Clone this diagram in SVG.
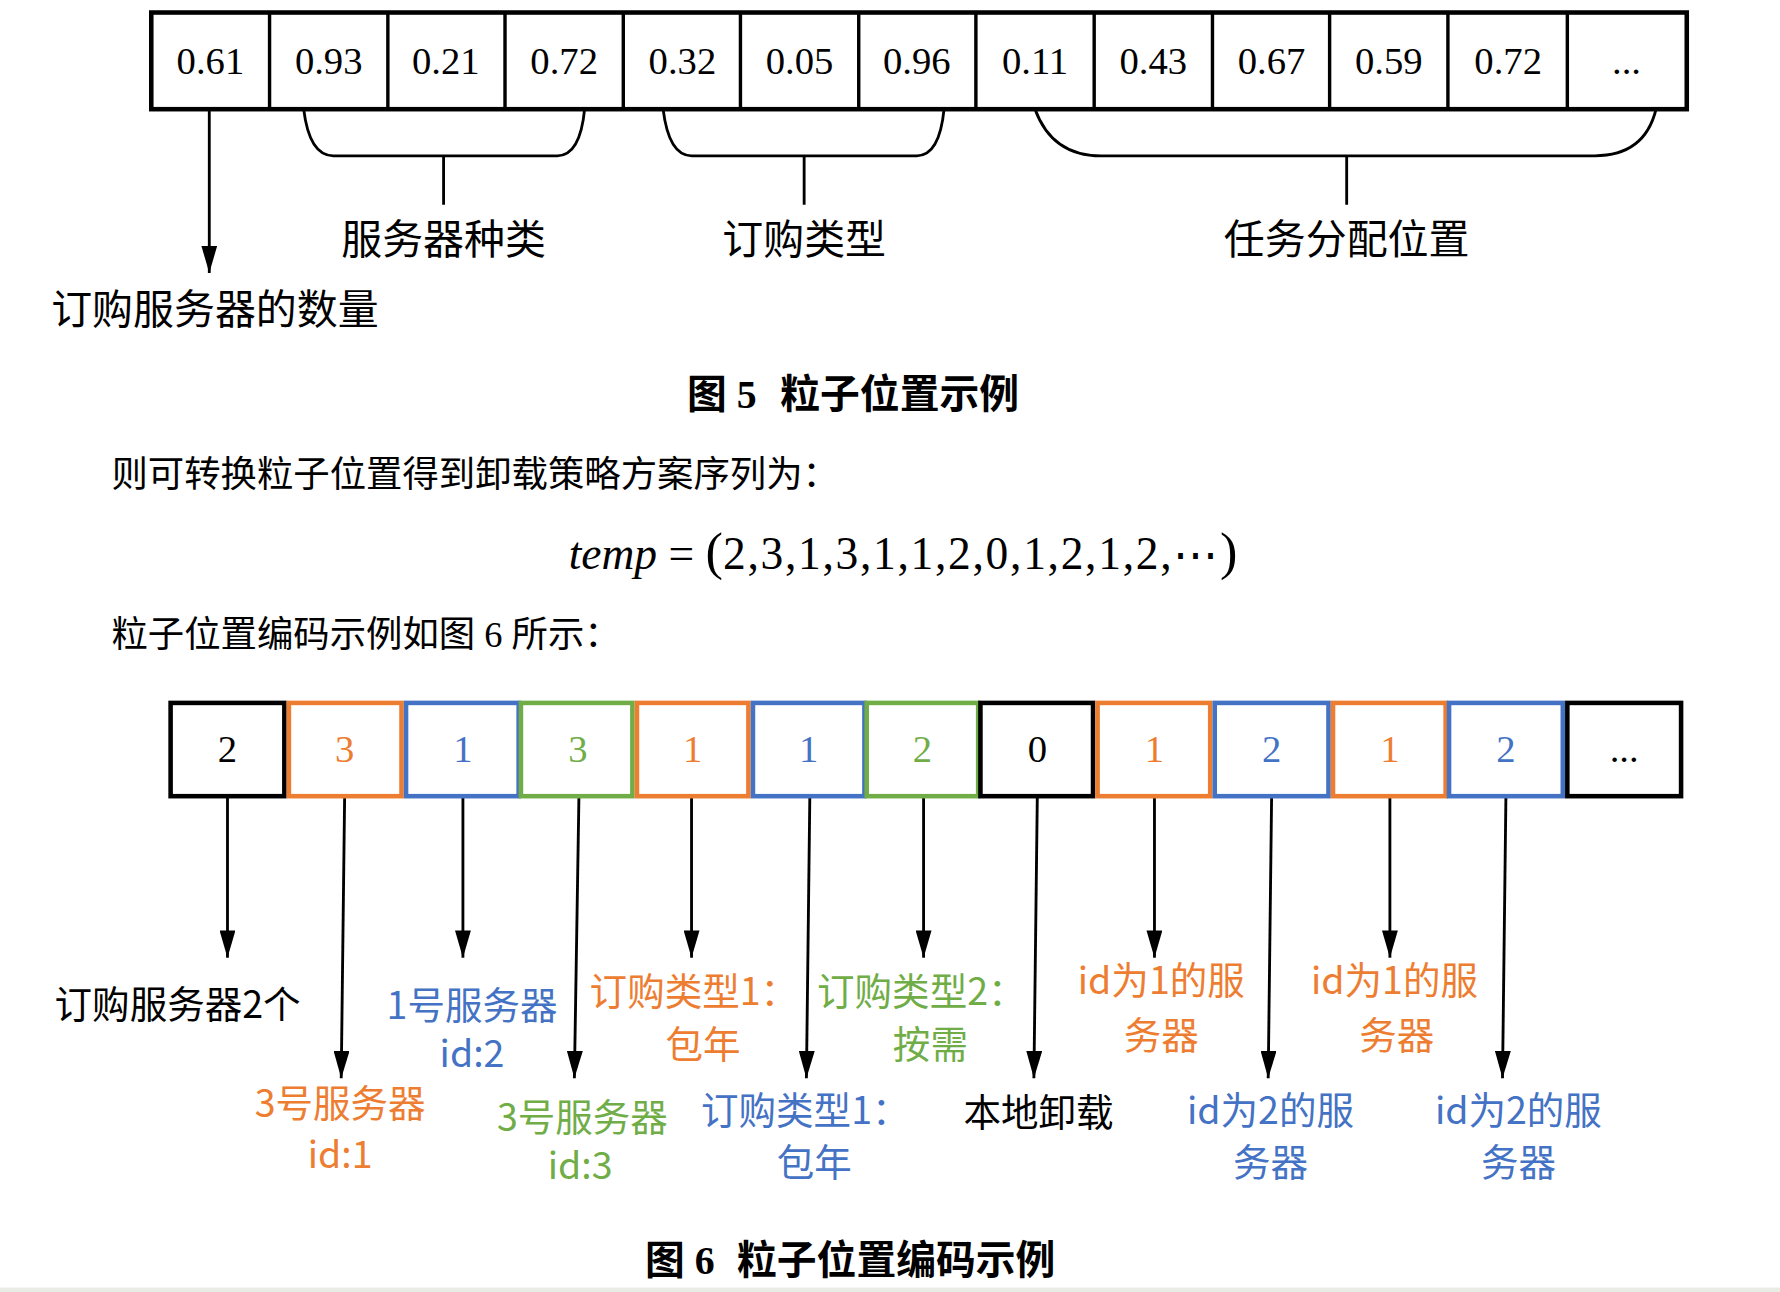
<svg xmlns="http://www.w3.org/2000/svg" width="1780" height="1292" viewBox="0 0 1780 1292">
<defs>
<marker id="a2" viewBox="0 0 24 14" refX="24" refY="7" markerWidth="24" markerHeight="14" orient="auto" markerUnits="userSpaceOnUse"><path d="M0,0 L24,7 L0,14 z" fill="#000"/></marker>
<style>
.v{font-family:"Liberation Serif",serif;font-size:34px;text-anchor:middle}
.l{font-family:"Noto Sans CJK SC",sans-serif;font-size:33px;text-anchor:middle}
.L{font-family:"Noto Sans CJK SC",sans-serif;font-size:36px;text-anchor:middle}
.s{font-family:"Liberation Serif","Noto Sans CJK SC",serif;font-size:32px}
.t{font-family:"Liberation Serif","Noto Sans CJK SC",serif;font-size:35px;font-weight:bold}
.ln{stroke:#000;stroke-width:2.5;fill:none}
.o{fill:#ED7D31}.b{fill:#4472C4}.g{fill:#70AD47}
</style>
</defs>
<rect width="1780" height="1292" fill="#fff"/>
<g transform="scale(1.1374)">
<g id="row1" stroke="#000">
<rect x="133" y="11" width="1350" height="85" fill="#fff" stroke-width="4"/>
<path d="M237,11V96M341,11V96M444,11V96M548,11V96M651,11V96M755,11V96M858,11V96M962,11V96M1066,11V96M1169,11V96M1273,11V96M1378,11V96" stroke-width="3"/>
</g>
<g id="row1text" class="v">
<text x="185" y="65">0.61</text><text x="289" y="65">0.93</text><text x="392" y="65">0.21</text><text x="496" y="65">0.72</text><text x="600" y="65">0.32</text><text x="703" y="65">0.05</text><text x="806" y="65">0.96</text><text x="910" y="65">0.11</text><text x="1014" y="65">0.43</text><text x="1118" y="65">0.67</text><text x="1221" y="65">0.59</text><text x="1326" y="65">0.72</text><text x="1430" y="65">...</text>
</g>
<g id="connectors">
<path class="ln" d="M267,96 Q272,137 293,137 H490 Q510,137 514,96 M390,137 V180"/>
<path class="ln" d="M583,96 Q588,137 608,137 H806 Q826,137 830,96 M707,137 V180"/>
<path class="ln" d="M910,96 Q925,137 968,137 H1402 Q1446,137 1456,96 M1184,137 V180"/>
<line class="ln" x1="184" y1="96" x2="184" y2="240" marker-end="url(#a2)"/>
<g class="ln" marker-end="url(#a2)">
<line x1="200" y1="700" x2="200" y2="842"/>
<line x1="407" y1="700" x2="407" y2="842"/>
<line x1="608" y1="700" x2="608" y2="842"/>
<line x1="812" y1="700" x2="812" y2="842"/>
<line x1="1015" y1="700" x2="1015" y2="842"/>
<line x1="1222" y1="700" x2="1222" y2="842"/>
<line x1="303" y1="700" x2="300" y2="948"/>
<line x1="509" y1="700" x2="505" y2="948"/>
<line x1="712" y1="700" x2="709" y2="948"/>
<line x1="912" y1="700" x2="909" y2="948"/>
<line x1="1118" y1="700" x2="1115" y2="948"/>
<line x1="1324" y1="700" x2="1321" y2="948"/>
</g>
</g>
<g id="labels1" class="L">
<text x="390" y="223">服务器种类</text>
<text x="707" y="223">订购类型</text>
<text x="1184" y="223">任务分配位置</text>
<text x="45" y="285" style="text-anchor:start">订购服务器的数量</text>
</g>
<text class="t" x="604" y="359">图 5<tspan x="686">粒子位置示例</tspan></text>
<text class="s" x="98" y="428">则可转换粒子位置得到卸载策略方案序列为：</text>
<text x="500" y="500" style="font-family:'Liberation Serif',serif;font-size:40px"><tspan font-style="italic">temp</tspan> = <tspan font-size="46">(</tspan><tspan letter-spacing="1.5">2,3,1,3,1,1,2,0,1,2,1,2,⋯</tspan><tspan font-size="46">)</tspan></text>
<text class="s" x="98" y="569">粒子位置编码示例如图 6 所示：</text>
<g id="row2" fill="#fff" stroke-width="4">
<rect x="150" y="618" width="100" height="82" stroke="#000"/>
<rect x="254" y="618" width="99" height="82" stroke="#ED7D31"/>
<rect x="357" y="618" width="99" height="82" stroke="#4472C4"/>
<rect x="458" y="618" width="98" height="82" stroke="#70AD47"/>
<rect x="560" y="618" width="98" height="82" stroke="#ED7D31"/>
<rect x="662" y="618" width="98" height="82" stroke="#4472C4"/>
<rect x="762" y="618" width="98" height="82" stroke="#70AD47"/>
<rect x="862" y="618" width="99" height="82" stroke="#000"/>
<rect x="965" y="618" width="99" height="82" stroke="#ED7D31"/>
<rect x="1068" y="618" width="100" height="82" stroke="#4472C4"/>
<rect x="1172" y="618" width="99" height="82" stroke="#ED7D31"/>
<rect x="1274" y="618" width="100" height="82" stroke="#4472C4"/>
<rect x="1378" y="618" width="100" height="82" stroke="#000"/>
</g>
<g id="row2text" class="v">
<text x="200" y="670">2</text><text class="o" x="303" y="670">3</text><text class="b" x="407" y="670">1</text><text class="g" x="508" y="670">3</text><text class="o" x="609" y="670">1</text><text class="b" x="711" y="670">1</text><text class="g" x="811" y="670">2</text><text x="912" y="670">0</text><text class="o" x="1015" y="670">1</text><text class="b" x="1118" y="670">2</text><text class="o" x="1222" y="670">1</text><text class="b" x="1324" y="670">2</text><text x="1428" y="670">...</text>
</g>
<g id="labels2" class="l">
<text x="48" y="895" style="text-anchor:start">订购服务器2个</text>
<text class="b" x="415" y="896">1号服务器</text><text class="b" x="415" y="938">id:2</text>
<text class="o" x="610" y="884">订购类型1：</text><text class="o" x="618" y="930">包年</text>
<text class="g" x="810" y="884">订购类型2：</text><text class="g" x="818" y="930">按需</text>
<text class="o" x="1021" y="874">id为1的服</text><text class="o" x="1021" y="922">务器</text>
<text class="o" x="1226" y="874">id为1的服</text><text class="o" x="1228" y="922">务器</text>
<text class="o" x="299" y="982">3号服务器</text><text class="o" x="299" y="1027">id:1</text>
<text class="g" x="512" y="994">3号服务器</text><text class="g" x="510" y="1037">id:3</text>
<text class="b" x="708" y="988">订购类型1：</text><text class="b" x="716" y="1034">包年</text>
<text x="913" y="990">本地卸载</text>
<text class="b" x="1117" y="988">id为2的服</text><text class="b" x="1117" y="1034">务器</text>
<text class="b" x="1335" y="988">id为2的服</text><text class="b" x="1335" y="1034">务器</text>
</g>
<text class="t" x="567" y="1120">图 6<tspan x="648">粒子位置编码示例</tspan></text>
<rect x="0" y="1132" width="1565" height="10" fill="#e8ece4"/>
</g>
</svg>
